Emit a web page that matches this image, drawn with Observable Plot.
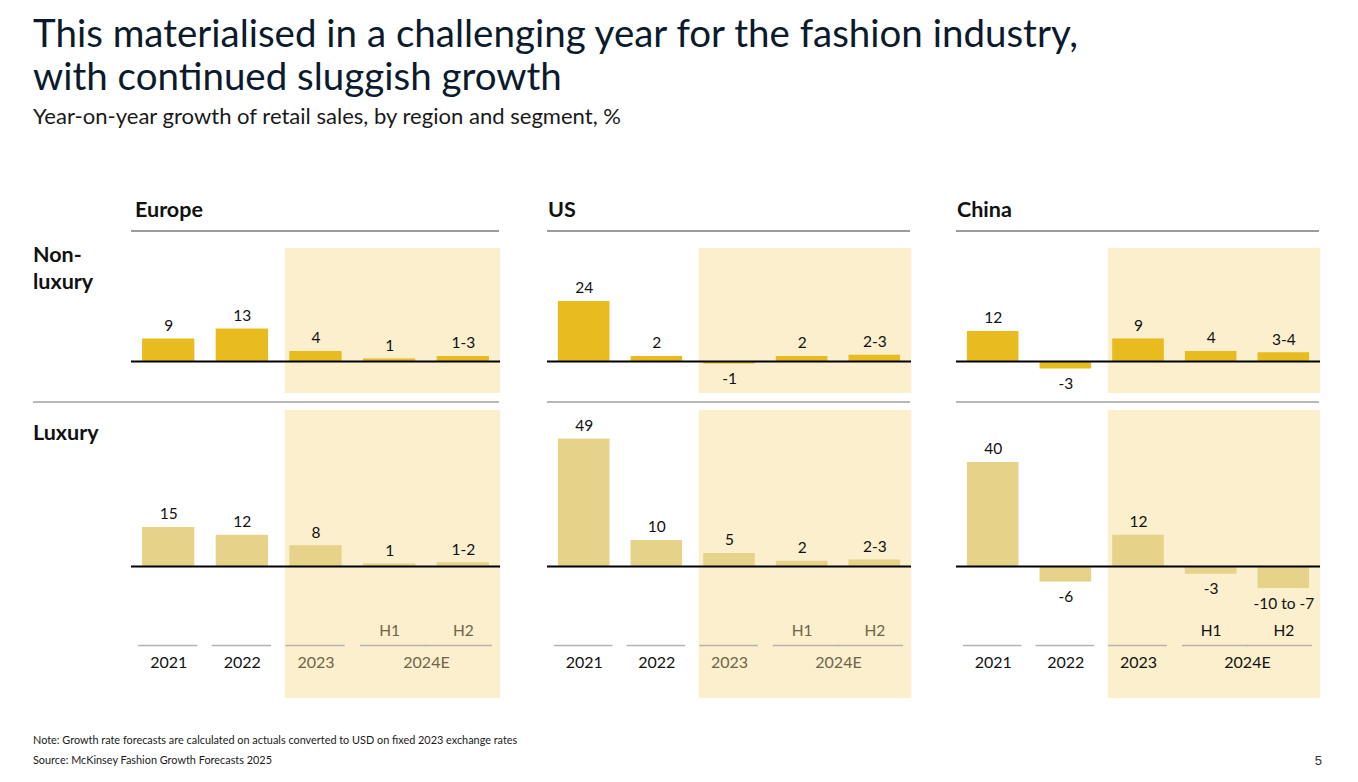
<!DOCTYPE html>
<html>
<head>
<meta charset="utf-8">
<script src="https://cdn.jsdelivr.net/npm/d3@7"></script>
<script src="https://cdn.jsdelivr.net/npm/@observablehq/plot@0.6"></script>
<style>
  html, body { margin: 0; padding: 0; background: #fff; }
  #page { position: relative; width: 1358px; height: 782px; overflow: hidden; font-family: Lato, "Open Sans", sans-serif; }
  #overlay { position: absolute; left: 0; top: 0; }
  .panel { position: absolute; }
  .panel svg { overflow: visible; display: block; }
</style>
</head>
<body>
<div id="page"></div>
<script>
// ---------- data ----------
const periods = ["2021", "2022", "2023", "H1", "H2"];
const forecastPeriods = ["2023", "H1", "H2"];
const halfPeriods = ["H1", "H2"];
const singleYears = ["2021", "2022", "2023"];
const groupYear = "2024E";
const regions = ["Europe", "US", "China"];
const segments = ["Non-luxury", "Luxury"];

const europeNonLuxury = [9, 13, 4, 1, 2];
const europeNonLuxuryLabels = ["9", "13", "4", "1", "1-3"];
const usNonLuxury = [24, 2, -1, 2, 2.5];
const usNonLuxuryLabels = ["24", "2", "-1", "2", "2-3"];
const chinaNonLuxury = [12, -3, 9, 4, 3.5];
const chinaNonLuxuryLabels = ["12", "-3", "9", "4", "3-4"];

const europeLuxury = [15, 12, 8, 1, 1.5];
const europeLuxuryLabels = ["15", "12", "8", "1", "1-2"];
const usLuxury = [49, 10, 5, 2, 2.5];
const usLuxuryLabels = ["49", "10", "5", "2", "2-3"];
const chinaLuxury = [40, -6, 12, -3, -8.5];
const chinaLuxuryLabels = ["40", "-6", "12", "-3", "-10 to -7"];

const titleLines = ["This materialised in a challenging year for the fashion industry,", "with continued sluggish growth"];
const subtitle = "Year-on-year growth of retail sales, by region and segment, %";
const noteText = "Note: Growth rate forecasts are calculated on actuals converted to USD on fixed 2023 exchange rates";
const sourceText = "Source: McKinsey Fashion Growth Forecasts 2025";
const pageNumber = "5";

// ---------- styling / layout ----------
const NONLUX = "#E8BC1F";
const LUX = "#E7D28A";
const HIGHLIGHT = "#FBEFCD";
const FADED = "#6f6449";
const INK = "#111111";
const PI = 0.29, PO = 0.15;

const layout = {
  Europe: { left: 131, width: 369, sepLeft: 33, fadedAxis: true },
  US:     { left: 547, width: 364, sepLeft: 547, fadedAxis: true },
  China:  { left: 956, width: 364, sepLeft: 956, fadedAxis: false }
};
const series = {
  Europe: { "Non-luxury": [europeNonLuxury, europeNonLuxuryLabels], "Luxury": [europeLuxury, europeLuxuryLabels] },
  US:     { "Non-luxury": [usNonLuxury, usNonLuxuryLabels], "Luxury": [usLuxury, usLuxuryLabels] },
  China:  { "Non-luxury": [chinaNonLuxury, chinaNonLuxuryLabels], "Luxury": [chinaLuxury, chinaLuxuryLabels] }
};
const rowCfg = {
  "Non-luxury": { top: 248, height: 145, marginBottom: 0, domain: [-12.8, 45.2], color: NONLUX, axis: false },
  "Luxury":     { top: 410, height: 288, marginBottom: 83, domain: [-18.85, 60], color: LUX, axis: true }
};

const page = document.getElementById("page");

// ---------- overlay text / rules ----------
const svg = d3.select(page).append("svg").attr("id", "overlay").attr("width", 1358).attr("height", 782);

function fitText(sel, target) {
  const w = sel.node().getComputedTextLength();
  const fs = parseFloat(sel.attr("font-size"));
  if (w > 0) sel.attr("font-size", (fs * target / w).toFixed(2));
}

const t1 = svg.append("text").attr("x", 33).attr("y", 47).attr("font-size", 34).attr("fill", "#0b1a2c").text(titleLines[0]);
const t2 = svg.append("text").attr("x", 33).attr("y", 90).attr("font-size", 34).attr("fill", "#0b1a2c").text(titleLines[1]);
fitText(t1, 1045);
t2.attr("font-size", t1.attr("font-size"));
const st = svg.append("text").attr("x", 33).attr("y", 124).attr("font-size", 19).attr("fill", "#1a1a1a").text(subtitle);
fitText(st, 588);

// region headers and rules
let hdrFs = 20;
regions.forEach((r, i) => {
  const L = layout[r];
  const h = svg.append("text").attr("x", L.left + (r === "Europe" ? 4 : 1)).attr("y", 217)
    .attr("font-size", hdrFs).attr("font-weight", 700).attr("fill", INK).text(r);
  if (i === 0) { fitText(h, 68); hdrFs = +h.attr("font-size"); }
  svg.append("line").attr("x1", L.left).attr("x2", L.left + L.width - 1).attr("y1", 231).attr("y2", 231)
    .attr("stroke", "#7a7a7a").attr("stroke-width", 1.5);
  svg.append("line").attr("x1", L.sepLeft).attr("x2", L.left + L.width - 1).attr("y1", 402).attr("y2", 402)
    .attr("stroke", "#a0a0a0").attr("stroke-width", 1.3);
});
// row labels
svg.append("text").attr("x", 33).attr("y", 262).attr("font-size", hdrFs).attr("font-weight", 700).attr("fill", INK).text("Non-");
svg.append("text").attr("x", 33).attr("y", 289).attr("font-size", hdrFs).attr("font-weight", 700).attr("fill", INK).text("luxury");
svg.append("text").attr("x", 33).attr("y", 440).attr("font-size", hdrFs).attr("font-weight", 700).attr("fill", INK).text(segments[1]);

// footnotes
const nt = svg.append("text").attr("x", 33).attr("y", 744).attr("font-size", 11).attr("fill", "#1a1a1a").text(noteText);
fitText(nt, 485);
svg.append("text").attr("x", 33).attr("y", 764).attr("font-size", nt.attr("font-size")).attr("fill", "#1a1a1a").text(sourceText);
svg.append("text").attr("x", 1322).attr("y", 765).attr("text-anchor", "end").attr("font-size", 13)
  .attr("font-family", "Liberation Sans, Arial, sans-serif").attr("fill", "#333").text(pageNumber);

// ---------- panels ----------
function panel(region, segment) {
  const L = layout[region];
  const C = rowCfg[segment];
  const [values, labels] = series[region][segment];
  const data = periods.map((p, i) => ({ period: p, value: values[i], label: labels[i] }));
  const step = L.width / (periods.length - PI + 2 * PO);
  const gap = step * PI;
  const [y0, y1] = C.domain;
  const hl = { x: d => d, y1: () => y0, y2: () => y1, fill: HIGHLIGHT, insetBottom: -C.marginBottom };
  const marks = [
    Plot.barY(forecastPeriods.slice(0, 1), { ...hl, insetLeft: -gap / 2 + 6, insetRight: -gap / 2 - 0.6 }),
    Plot.barY(forecastPeriods.slice(1), { ...hl, insetLeft: -gap / 2 - 0.6, insetRight: -gap / 2 - 0.6 }),
    Plot.barY(data, { x: "period", y: "value", fill: C.color }),
    Plot.ruleY([0], { stroke: "#000", strokeWidth: 2 }),
    Plot.text(data.filter(d => d.value >= 0), { x: "period", y: "value", text: "label", dy: -13, fill: INK, fontSize: 15.5 }),
    Plot.text(data.filter(d => d.value < 0), { x: "period", y: "value", text: "label", dy: 15, fill: INK, fontSize: 15.5 })
  ];
  if (C.axis) {
    const fc = L.fadedAxis ? FADED : INK;
    const lineStyle = { y: () => y0, dy: 30, stroke: "#b3b3b3", strokeWidth: 1.3 };
    marks.push(
      Plot.text(halfPeriods, { x: d => d, text: d => d, frameAnchor: "bottom", dy: 20, fill: fc, fontSize: 15.5 }),
      Plot.tickY(singleYears, { x: d => d, ...lineStyle, insetLeft: -4, insetRight: -3 }),
      Plot.tickY(["H1"], { x: d => d, ...lineStyle, insetLeft: -3, insetRight: -gap / 2 - 0.5 }),
      Plot.tickY(["H2"], { x: d => d, ...lineStyle, insetLeft: -gap / 2 - 0.5, insetRight: -3 }),
      Plot.text(singleYears.filter(d => !forecastPeriods.includes(d)), { x: d => d, text: d => d, frameAnchor: "bottom", dy: 52, fill: INK, fontSize: 16 }),
      Plot.text(singleYears.filter(d => forecastPeriods.includes(d)), { x: d => d, text: d => d, frameAnchor: "bottom", dy: 52, fill: fc, fontSize: 16 }),
      Plot.text([groupYear], { x: () => "H1", text: d => d, dx: step / 2, frameAnchor: "bottom", dy: 52, fill: fc, fontSize: 16 })
    );
  }
  const chart = Plot.plot({
    width: L.width, height: C.height,
    marginLeft: 0, marginRight: 0, marginTop: 0, marginBottom: C.marginBottom,
    x: { type: "band", domain: periods, paddingInner: PI, paddingOuter: PO, axis: null, round: false },
    y: { domain: C.domain, axis: null },
    style: { fontFamily: "Lato, 'Open Sans', sans-serif", background: "transparent", overflow: "visible" },
    marks
  });
  const div = document.createElement("div");
  div.className = "panel";
  div.style.left = L.left + "px";
  div.style.top = C.top + "px";
  div.appendChild(chart);
  page.appendChild(div);
}

regions.forEach(r => segments.forEach(s => panel(r, s)));
</script>
</body>
</html>
